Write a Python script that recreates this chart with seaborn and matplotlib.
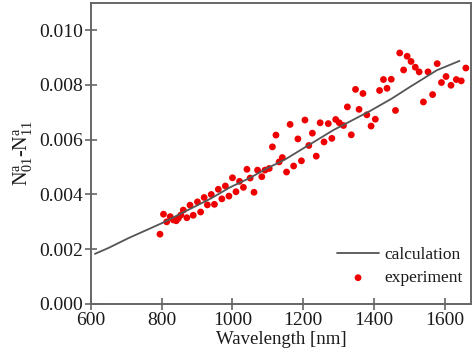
import numpy as np
import pandas as pd
import matplotlib
matplotlib.use('Agg')
import matplotlib.pyplot as plt
import seaborn as sns

# calculated curve (wavelength in nm, N01 - N11)
calc_wl = [611, 650, 705, 750, 800, 880, 940, 993, 1050, 1097, 1149, 1215,
           1285, 1340, 1389, 1450, 1502, 1578, 1642]
calc_dn = [0.00183, 0.00205, 0.00240, 0.00266, 0.00295, 0.00347, 0.00386, 0.00426,
           0.00461, 0.00495, 0.00528, 0.00580, 0.00635, 0.00672, 0.00705,
           0.00750, 0.00793, 0.00854, 0.00888]

# measured points
exp_wl = [795, 805, 814, 824, 833, 841, 847, 854, 861, 871, 880, 889, 901, 910,
          920, 929, 940, 949, 960, 970, 980, 990, 1000, 1010, 1020, 1031, 1041,
          1050, 1061, 1071, 1083, 1092, 1104, 1113, 1123, 1132, 1141, 1153, 1163,
          1173, 1185, 1195, 1205, 1216, 1226, 1237, 1248, 1259, 1271, 1281, 1292,
          1302, 1314, 1325, 1336, 1348, 1358, 1369, 1380, 1392, 1404, 1416, 1427,
          1437, 1449, 1461, 1473, 1484, 1494, 1505, 1517, 1528, 1540, 1553, 1566,
          1579, 1591, 1604, 1618, 1633, 1647, 1660]
exp_dn = [0.00255, 0.00328, 0.00300, 0.00319, 0.00307, 0.00304, 0.00313, 0.00325,
          0.00343, 0.00315, 0.00361, 0.00324, 0.00373, 0.00336, 0.00389, 0.00362,
          0.00400, 0.00364, 0.00419, 0.00384, 0.00431, 0.00394, 0.00461, 0.00410,
          0.00448, 0.00426, 0.00492, 0.00460, 0.00408, 0.00489, 0.00465, 0.00489,
          0.00495, 0.00574, 0.00617, 0.00519, 0.00535, 0.00482, 0.00656, 0.00504,
          0.00603, 0.00523, 0.00672, 0.00579, 0.00624, 0.00540, 0.00662, 0.00592,
          0.00659, 0.00605, 0.00674, 0.00662, 0.00652, 0.00720, 0.00618, 0.00784,
          0.00711, 0.00769, 0.00691, 0.00650, 0.00675, 0.00780, 0.00820, 0.00788,
          0.00821, 0.00707, 0.00917, 0.00855, 0.00905, 0.00886, 0.00865, 0.00848,
          0.00738, 0.00848, 0.00765, 0.00878, 0.00809, 0.00831, 0.00799, 0.00820,
          0.00815, 0.00862]

calc = pd.DataFrame({'wl': calc_wl, 'dn': calc_dn})
exp = pd.DataFrame({'wl': exp_wl, 'dn': exp_dn})

sns.set_style('ticks')
plt.rcParams['font.family'] = ['Liberation Serif', 'DejaVu Serif']
plt.rcParams['mathtext.fontset'] = 'custom'
plt.rcParams['mathtext.rm'] = 'Liberation Serif'
plt.rcParams['mathtext.it'] = 'Liberation Serif:italic'

fig = plt.figure(figsize=(4.74, 3.61), dpi=100)
ax = fig.add_axes([0.192, 0.158, 0.802, 0.834])

sns.lineplot(data=calc, x='wl', y='dn', ax=ax, color='#555555', linewidth=1.3,
             label='calculation')
sns.scatterplot(data=exp, x='wl', y='dn', ax=ax, color='#ee0000', s=24,
                edgecolor='none', label='experiment')

ax.set_xlim(600, 1675)
ax.set_ylim(0, 0.011)
ax.set_xticks([600, 800, 1000, 1200, 1400, 1600])
ax.set_yticks([0.000, 0.002, 0.004, 0.006, 0.008, 0.010])
ax.set_yticklabels(['0.000', '0.002', '0.004', '0.006', '0.008', '0.010'])
ax.tick_params(direction='inout', length=8, width=1.2, color='#666666',
               labelsize=14, pad=2, labelcolor='#1a1a1a')

for side in ['left', 'bottom', 'top', 'right']:
    ax.spines[side].set_visible(True)
    ax.spines[side].set_color('#666666')
    ax.spines[side].set_linewidth(1.4)

ax.set_xlabel('Wavelength [nm]', fontsize=13.5, labelpad=1, color='#1a1a1a')
ax.set_ylabel(r'$\mathrm{N^a_{01}}$-$\mathrm{N^a_{11}}$', fontsize=14.5,
              labelpad=3, color='#1a1a1a')

ax.legend(loc='lower right', frameon=False, fontsize=12.5, handlelength=2.4,
          handletextpad=0.3, borderaxespad=0.1, labelspacing=0.4,
          bbox_to_anchor=(1.0, 0.03), labelcolor='#1a1a1a')

fig.savefig('out.png', dpi=100)
